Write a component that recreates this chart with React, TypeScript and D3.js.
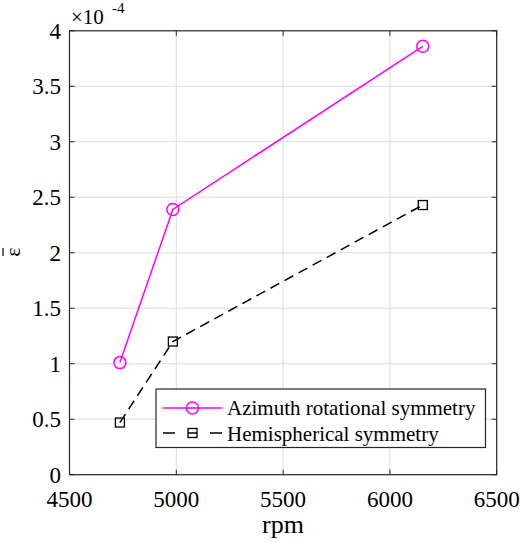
import React from "react";
import * as d3 from "d3";

const rpm = [4736, 4984, 6154];
const azimuth = [1.01, 2.39, 3.86];
const hemispherical = [0.47, 1.2, 2.43];
const xTicks = [4500, 5000, 5500, 6000, 6500];
const yTicks = [0, 0.5, 1, 1.5, 2, 2.5, 3, 3.5, 4];
const seriesNames = ["Azimuth rotational symmetry", "Hemispherical symmetry"];

const W = 520;
const H = 542;
const M = { left: 69.5, right: 496.7, top: 30.8, bottom: 474.7 };
const FONT = "Liberation Serif, DejaVu Serif, serif";
const MAG = "#FF00FF";
const AX = "#262626";
const ts = { fontFamily: FONT };

export default function App() {
  const x = d3.scaleLinear().domain([4500, 6500]).range([M.left, M.right]);
  const y = d3.scaleLinear().domain([0, 4]).range([M.bottom, M.top]);
  const line = d3
    .line<number>()
    .x((_, i) => x(rpm[i]))
    .y((d) => y(d));
  const tl = 5;
  return (
    <svg
      width={W}
      height={H}
      style={{ position: "absolute", left: 0, top: 0, background: "#fff", fontFamily: FONT }}
    >
      {/* grid */}
      {xTicks.slice(1, -1).map((t) => (
        <line key={"gx" + t} x1={x(t)} x2={x(t)} y1={M.top} y2={M.bottom} stroke="#dcdcdc" strokeWidth={1} />
      ))}
      {yTicks.slice(1, -1).map((t) => (
        <line key={"gy" + t} x1={M.left} x2={M.right} y1={y(t)} y2={y(t)} stroke="#dcdcdc" strokeWidth={1} />
      ))}
      {/* ticks */}
      {xTicks.map((t) => (
        <g key={"tx" + t}>
          <line x1={x(t)} x2={x(t)} y1={M.bottom} y2={M.bottom - tl} stroke={AX} />
          <line x1={x(t)} x2={x(t)} y1={M.top} y2={M.top + tl} stroke={AX} />
          <text x={x(t)} y={507} textAnchor="middle" fontSize={23} fill="#000" style={ts}>
            {t}
          </text>
        </g>
      ))}
      {yTicks.map((t) => (
        <g key={"ty" + t}>
          <line x1={M.left} x2={M.left + tl} y1={y(t)} y2={y(t)} stroke={AX} />
          <line x1={M.right} x2={M.right - tl} y1={y(t)} y2={y(t)} stroke={AX} />
          <text x={61} y={y(t) + 8} textAnchor="end" fontSize={23} fill="#000" style={ts}>
            {String(t)}
          </text>
        </g>
      ))}
      {/* box */}
      <rect x={M.left} y={M.top} width={M.right - M.left} height={M.bottom - M.top} fill="none" stroke={AX} strokeWidth={1.2} />
      {/* exponent */}
      <text x={71} y={24} fontSize={21} fill="#000" style={ts}>
        ×10
      </text>
      <text x={112} y={13} fontSize={15} fill="#000" style={ts}>
        -4
      </text>
      {/* axis labels */}
      <text x={283} y={533} textAnchor="middle" fontSize={26} fill="#000" style={ts}>
        rpm
      </text>
      <g transform="translate(19.5,252) rotate(-90)">
        <text x={0} y={0} textAnchor="middle" fontSize={22} fill="#000" style={ts}>
          ε
        </text>
        <line x1={-4} x2={4} y1={-16.5} y2={-16.5} stroke="#000" strokeWidth={1.2} />
      </g>
      {/* series */}
      <path d={line(hemispherical) || ""} fill="none" stroke="#000" strokeWidth={1.5} strokeDasharray="10,6" />
      {hemispherical.map((v, i) => (
        <rect key={"hs" + i} x={x(rpm[i]) - 4.5} y={y(v) - 4.5} width={9} height={9} fill="none" stroke="#000" strokeWidth={1.3} />
      ))}
      <path d={line(azimuth) || ""} fill="none" stroke={MAG} strokeWidth={1.5} />
      {azimuth.map((v, i) => (
        <circle key={"ac" + i} cx={x(rpm[i])} cy={y(v)} r={6} fill="none" stroke={MAG} strokeWidth={1.5} />
      ))}
      {/* legend */}
      <rect x={156} y={389} width={329.5} height={58.5} fill="#fff" stroke={AX} strokeWidth={1.2} />
      <line x1={163} x2={222} y1={408} y2={408} stroke={MAG} strokeWidth={1.5} />
      <circle cx={192.5} cy={408} r={6} fill="none" stroke={MAG} strokeWidth={1.5} />
      <text x={227} y={415} fontSize={21} fill="#000" style={ts}>
        {seriesNames[0]}
      </text>
      <line x1={163} x2={222} y1={433} y2={433} stroke="#000" strokeWidth={1.5} strokeDasharray="12,13,9,13,12" />
      <rect x={188} y={428.5} width={9} height={9} fill="none" stroke="#000" strokeWidth={1.3} />
      <text x={227} y={441} fontSize={21} fill="#000" style={ts}>
        {seriesNames[1]}
      </text>
    </svg>
  );
}
